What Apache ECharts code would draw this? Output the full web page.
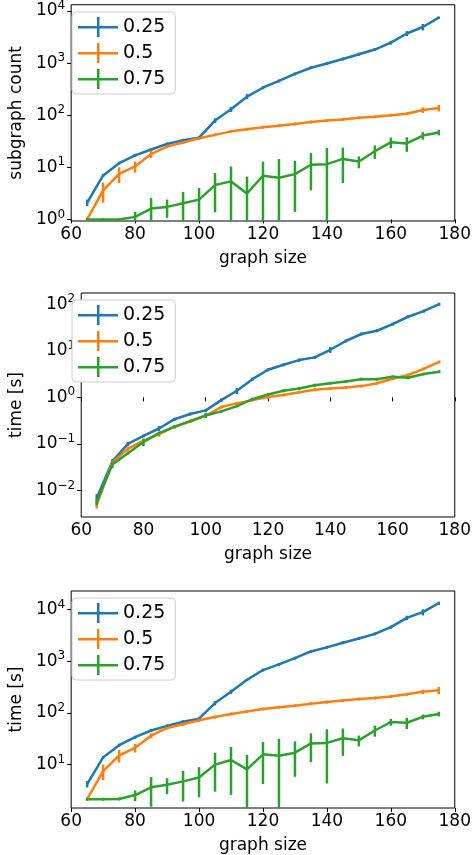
<!DOCTYPE html>
<html>
<head>
<meta charset="utf-8">
<script src="https://cdn.jsdelivr.net/npm/echarts@6/dist/echarts.min.js"></script>
<style>
html,body{margin:0;padding:0;background:#fff;}
#main{width:474px;height:855px;}
</style>
</head>
<body>
<div id="main"></div>
<script>
var sizes = [65,70,75,80,85,90,95,100,105,110,115,120,125,130,135,140,145,150,155,160,165,170,175];
var names = ['0.25','0.5','0.75'];
var colors = ['#1f77b4','#ff7f0e','#2ca02c'];

// panel 1: subgraph count
var countBlue = [2.1,7,12,17,22,28,33,37,79,130,227,337,455,620,815,985,1200,1480,1820,2470,3700,4930,7450];
var countOrange = [1,3.6,7.5,10.4,18,25,30,36,42,49,54,59,63,68,74,79,83,89,93,100,107,126,138];
var countGreen = [1,1,1,1.12,1.62,1.74,2.04,2.4,4.57,5.37,3.16,6.9,6.3,7.4,11.2,11.5,14.5,12.9,20.4,30.2,28.8,40.7,46.8];
var countBlueErr = [0.3,0,0,0,0,0,0,0,8,15,10,0,0,0,0,0,0,0,0,200,400,700,400];
var countOrangeErr = [0,1.5,2.5,2.5,3,0,0,0,0,0,0,0,0,0,0,0,0,0,0,0,0,15,20];
var countGreenErr = [0,0,0,0.28,0.97,0.67,1.34,1.63,3.2,5,3.5,6,8.1,6,7.6,11.9,9.5,3.3,5.9,7,9,6.6,5.7];

// panel 2: time [s]
var timeBlue = [0.0069,0.042,0.1,0.148,0.214,0.339,0.437,0.525,0.87,1.38,2.45,3.9,5.0,6.3,7.2,10.5,16.2,22.9,26.9,37.2,53.7,70.8,100];
var timeOrange = [0.0049,0.04,0.078,0.117,0.162,0.234,0.302,0.407,0.617,0.741,0.871,1.02,1.12,1.29,1.45,1.55,1.62,1.74,2.0,2.51,3.02,4.07,5.75];
var timeGreen = [0.0058,0.036,0.063,0.11,0.17,0.234,0.309,0.407,0.5,0.646,0.912,1.15,1.38,1.55,1.82,2.0,2.19,2.45,2.45,2.75,2.63,3.16,3.55];
var timeBlueErr = [0.0015,0.005,0.01,0.01,0.01,0,0,0,0.08,0.2,0,0,0,0.5,0,1.5,0,0,0,0,0,0,0];
var timeOrangeErr = [0.0008,0.004,0.01,0,0.02,0,0.02,0,0,0,0,0,0,0,0,0,0,0,0,0,0,0,0];
var timeGreenErr = [0.001,0.006,0,0.02,0,0.02,0,0.02,0,0.04,0,0,0,0,0,0,0,0,0,0,0,0.2,0];

// panel 3: time [s]
var time2Blue = [4.2,13.8,23.7,33.9,45.7,56.2,67.6,77.6,155,257,437,676,871,1150,1550,1860,2290,2750,3390,4570,6920,8910,13300];
var time2Orange = [2.14,7.5,15,21.1,36.3,51.3,60.3,72.4,83.2,95.5,107,119,129,138,151,162,174,186,195,209,229,257,275];
var time2Green = [2.14,2.14,2.16,2.57,3.63,4.07,4.73,5.62,10,12.3,8.1,15.8,14.8,17,25.7,26.3,32.4,29.5,45.7,66.8,64.6,84,95.5];
var time2BlueErr = [0.6,0,0,0,0,0,0,0,15,25,20,0,0,0,0,0,0,0,0,300,700,1200,1000];
var time2OrangeErr = [0,2.5,4,4,4,0,0,0,0,0,0,0,0,0,0,0,0,0,0,0,0,25,45];
var time2GreenErr = [0,0,0,0.6,2.1,1.4,2.8,3.3,7,9.7,7.3,11.6,16.8,11.2,14.6,22,17.6,7,11,10,16,9,10];

var panels = [
  {name:'subgraph count', top:3, height:218, min:-0.03, max:4.12, ticks:[0,1,2,3,4], legendTop:12,
   vals:[countBlue,countOrange,countGreen], errs:[countBlueErr,countOrangeErr,countGreenErr]},
  {name:'time [s]', top:293, height:224, min:-2.57, max:2.24, ticks:[-2,-1,0,1,2], legendTop:300,
   vals:[timeBlue,timeOrange,timeGreen], errs:[timeBlueErr,timeOrangeErr,timeGreenErr]},
  {name:'time [s]', top:591, height:224, min:0.16, max:4.36, ticks:[1,2,3,4], legendTop:598,
   vals:[time2Blue,time2Orange,time2Green], errs:[time2BlueErr,time2OrangeErr,time2GreenErr]}
];

var font = 'DejaVu Sans';
var chart = echarts.init(document.getElementById('main'));
var grids = [], xAxes = [], yAxes = [], series = [], legends = [];

panels.forEach(function (p, k) {
  grids.push({left:62, width:397, top:p.top, height:p.height,
    show:true, borderColor:'#000', borderWidth:1, backgroundColor:'transparent'});
  xAxes.push({type:'value', gridIndex:k, min:60, max:180, interval:20,
    name:'graph size', nameLocation:'middle', nameGap:29,
    nameTextStyle:{fontFamily:font, fontSize:17, color:'#000'},
    axisLine:{show:false}, splitLine:{show:false},
    axisTick:{show:true, length:4, inside:false, lineStyle:{color:'#000'}},
    axisLabel:{fontFamily:font, fontSize:17, color:'#000', margin:5}});
  yAxes.push({type:'value', gridIndex:k, min:p.min, max:p.max,
    name:p.name, nameLocation:'middle', nameGap:44,
    nameTextStyle:{fontFamily:font, fontSize:17, color:'#000'},
    axisLine:{show:false}, splitLine:{show:false},
    axisTick:{show:true, length:4, customValues:p.ticks, lineStyle:{color:'#000'}},
    axisLabel:{fontFamily:font, fontSize:17, color:'#000', margin:6, customValues:p.ticks,
      formatter:function (v) { return '10{s|' + String(Math.round(v)).replace('-', '\u2212') + '}'; },
      rich:{s:{fontFamily:font, fontSize:12, color:'#000', verticalAlign:'top', padding:[0,0,10,0]}}}});
  legends.push({data:names, left:72, top:p.legendTop, orient:'vertical',
    itemWidth:40, itemHeight:20, itemGap:6, padding:[5,10,5,6],
    borderColor:'#ccc', borderWidth:1, borderRadius:4, backgroundColor:'#fff',
    icon:'path://M0,9h40v2.5h-40z M19,0h2.5v20h-2.5z',
    textStyle:{fontFamily:font, fontSize:19, color:'#000'}});
  names.forEach(function (nm, s) {
    var vals = p.vals[s], errs = p.errs[s];
    series.push({name:nm, type:'line', xAxisIndex:k, yAxisIndex:k, showSymbol:false, symbol:'none',
      lineStyle:{color:colors[s], width:2.5}, itemStyle:{color:colors[s]}, z:2,
      data:sizes.map(function (x, i) { return [x, Math.log10(vals[i])]; })});
    series.push({name:nm, type:'custom', xAxisIndex:k, yAxisIndex:k, z:3,
      data:sizes.map(function (x, i) {
        var lo = vals[i] - errs[i];
        var hi = vals[i] + errs[i];
        return [x, lo > 0 ? Math.max(Math.log10(lo), p.min) : p.min, Math.min(Math.log10(hi), p.max)];
      }),
      renderItem:function (params, api) {
        var a = api.coord([api.value(0), api.value(1)]);
        var b = api.coord([api.value(0), api.value(2)]);
        if (Math.abs(a[1] - b[1]) < 2) { a[1] += 1.5; b[1] -= 1.5; }
        return {type:'line', shape:{x1:a[0], y1:a[1], x2:b[0], y2:b[1]},
          style:{stroke:colors[s], lineWidth:2.5}};
      }});
  });
});

chart.setOption({
  animation:false,
  backgroundColor:'#fff',
  grid:grids, xAxis:xAxes, yAxis:yAxes, legend:legends, series:series
});
</script>
</body>
</html>
